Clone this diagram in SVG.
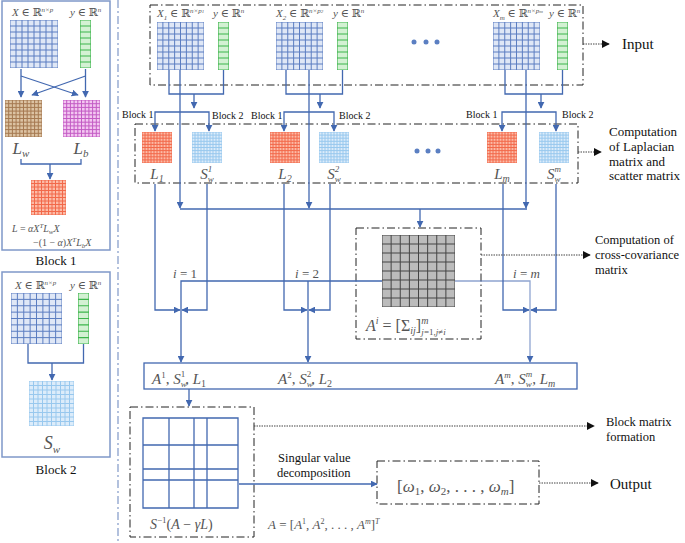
<svg xmlns="http://www.w3.org/2000/svg" xmlns:xlink="http://www.w3.org/1999/xlink" width="685" height="543" viewBox="0 0 685 543">
<style>
.bl{fill:none;stroke:#4268b0;stroke-width:1.3}
.bx{fill:none;stroke:#7f98c9;stroke-width:1.5}
.dd{fill:none;stroke:#222;stroke-width:1;stroke-dasharray:8 3 1.5 3}
.dot{fill:none;stroke:#444;stroke-width:1;stroke-dasharray:1.5 1}
.m{font-family:"Liberation Serif","DejaVu Serif",serif;font-style:italic;fill:#555}
.r{font-family:"Liberation Serif","DejaVu Serif",serif;font-style:normal}
.t{font-family:"Liberation Serif","DejaVu Serif",serif;fill:#111}
.gb{fill:#dfe7f6;stroke:#5b7dc1}
.gv{fill:#d3f1d3;stroke:#3db54c}
.gn{fill:#dcc3a3;stroke:#a57850}
.gm{fill:#f3c7f1;stroke:#c35ac4}
.gr{fill:#fcbba7;stroke:#f2694a}
.gs{fill:#dcecfa;stroke:#98c8ee}
.gg{fill:#bcbcbc;stroke:#444}
</style>
<defs>
<marker id="ab" viewBox="0 0 10 10" refX="9" refY="5" markerWidth="7" markerHeight="7" markerUnits="userSpaceOnUse" orient="auto"><path d="M0,0L10,5L0,10z" fill="#4268b0"/></marker>
<marker id="ak" viewBox="0 0 10 10" refX="9" refY="5" markerWidth="8" markerHeight="8" markerUnits="userSpaceOnUse" orient="auto"><path d="M0,0L10,5L0,10z" fill="#111"/></marker>
<symbol id="g8" viewBox="0 0 8 8" preserveAspectRatio="none"><rect width="8" height="8" stroke="none"/><path fill="none" vector-effect="non-scaling-stroke" stroke-width="1" d="M0,0H8V8H0zM1,0V8M2,0V8M3,0V8M4,0V8M5,0V8M6,0V8M7,0V8M0,1H8M0,2H8M0,3H8M0,4H8M0,5H8M0,6H8M0,7H8"/></symbol>
<symbol id="g10" viewBox="0 0 10 10" preserveAspectRatio="none"><rect width="10" height="10" stroke="none"/><path fill="none" vector-effect="non-scaling-stroke" stroke-width="1" d="M0,0H10V10H0zM1,0V10M2,0V10M3,0V10M4,0V10M5,0V10M6,0V10M7,0V10M8,0V10M9,0V10M0,1H10M0,2H10M0,3H10M0,4H10M0,5H10M0,6H10M0,7H10M0,8H10M0,9H10"/></symbol>
<symbol id="v8" viewBox="0 0 1 8" preserveAspectRatio="none"><rect width="1" height="8" stroke="none"/><path fill="none" vector-effect="non-scaling-stroke" stroke-width="1.2" d="M0,0H1V8H0zM0,1H1M0,2H1M0,3H1M0,4H1M0,5H1M0,6H1M0,7H1"/></symbol>
</defs>
<rect width="685" height="543" fill="#fff"/>

<line x1="118" y1="0" x2="118" y2="543" stroke="#8aa0cc" stroke-width="1.3" stroke-dasharray="8 3 2 3"/>

<g id="block1">
<rect class="bx" x="2" y="1" width="108" height="249"/>
<text class="m" x="12" y="16" font-size="11">X <tspan class="r">∈ ℝ</tspan><tspan font-size="7" dy="-4">n×p</tspan></text>
<text class="m" x="70" y="16" font-size="11">y <tspan class="r">∈ ℝ</tspan><tspan font-size="7" dy="-4">n</tspan></text>
<use href="#g8" class="gb" x="10" y="20" width="48" height="48"/>
<use href="#v8" class="gv" x="80" y="20" width="11" height="48"/>
<use href="#g10" class="gn" x="5" y="100" width="37" height="37"/>
<use href="#g10" class="gm" x="63" y="100" width="37" height="37"/>
<text class="m" x="21" y="154" font-size="17" text-anchor="middle">L<tspan font-size="11" dy="3">w</tspan></text>
<text class="m" x="81" y="154" font-size="17" text-anchor="middle">L<tspan font-size="11" dy="3">b</tspan></text>
<use href="#g10" class="gr" x="31" y="180" width="35" height="35"/>
<text class="m" x="12" y="232" font-size="10">L <tspan class="r">= </tspan>αX<tspan font-size="7" dy="-4">T</tspan><tspan dy="4">L</tspan><tspan font-size="7" dy="2">w</tspan><tspan dy="-2">X</tspan></text>
<text class="m" x="33" y="246" font-size="10"><tspan class="r">−(1 − </tspan>α<tspan class="r">)</tspan>X<tspan font-size="7" dy="-4">T</tspan><tspan dy="4">L</tspan><tspan font-size="7" dy="2">b</tspan><tspan dy="-2">X</tspan></text>
<text class="t" x="56" y="265" font-size="13" text-anchor="middle">Block 1</text>
</g>

<g id="block2">
<rect class="bx" x="2" y="272" width="108" height="185"/>
<text class="m" x="15" y="289" font-size="11">X <tspan class="r">∈ ℝ</tspan><tspan font-size="7" dy="-4">n×p</tspan></text>
<text class="m" x="70" y="289" font-size="11">y <tspan class="r">∈ ℝ</tspan><tspan font-size="7" dy="-4">n</tspan></text>
<use href="#g8" class="gb" x="11" y="293" width="51" height="51"/>
<use href="#v8" class="gv" x="78" y="293" width="11" height="51"/>
<use href="#g10" class="gs" x="29" y="381" width="45" height="45"/>
<text class="m" x="52" y="449" font-size="18" text-anchor="middle">S<tspan font-size="11" dy="4">w</tspan></text>
<text class="t" x="56" y="474" font-size="13" text-anchor="middle">Block 2</text>
</g>

<g id="input">
<rect class="dd" x="150" y="5" width="433" height="80"/>
<text class="m" x="157" y="17" font-size="11">X<tspan font-size="7" dy="3">1</tspan><tspan class="r" dy="-3"> ∈ ℝ</tspan><tspan font-size="7" dy="-4">n×p<tspan font-size="5">1</tspan></tspan></text>
<text class="m" x="213" y="17" font-size="11">y <tspan class="r">∈ ℝ</tspan><tspan font-size="7" dy="-4">n</tspan></text>
<use href="#g8" class="gb" x="157" y="22" width="47" height="48"/>
<use href="#v8" class="gv" x="218" y="22" width="11" height="48"/>
<text class="m" x="276" y="17" font-size="11">X<tspan font-size="7" dy="3">2</tspan><tspan class="r" dy="-3"> ∈ ℝ</tspan><tspan font-size="7" dy="-4">n×p<tspan font-size="5">2</tspan></tspan></text>
<text class="m" x="333" y="17" font-size="11">y <tspan class="r">∈ ℝ</tspan><tspan font-size="7" dy="-4">n</tspan></text>
<use href="#g8" class="gb" x="276" y="22" width="47" height="48"/>
<use href="#v8" class="gv" x="337" y="22" width="11" height="48"/>
<circle cx="414" cy="42" r="2.5" fill="#5b7fc2"/><circle cx="426" cy="42" r="2.5" fill="#5b7fc2"/><circle cx="437" cy="42" r="2.5" fill="#5b7fc2"/>
<text class="m" x="493" y="17" font-size="11">X<tspan font-size="7" dy="3">m</tspan><tspan class="r" dy="-3"> ∈ ℝ</tspan><tspan font-size="7" dy="-4">n×p<tspan font-size="5">m</tspan></tspan></text>
<text class="m" x="549" y="17" font-size="11">y <tspan class="r">∈ ℝ</tspan><tspan font-size="7" dy="-4">n</tspan></text>
<use href="#g8" class="gb" x="493" y="22" width="47" height="48"/>
<use href="#v8" class="gv" x="557" y="22" width="11" height="48"/>
<text class="t" x="622" y="49" font-size="15">Input</text>
</g>

<g id="laplacian">
<rect class="dd" x="135" y="124" width="443" height="59"/>
<use href="#g10" class="gr" x="142" y="132" width="30" height="31"/>
<use href="#g10" class="gs" x="192" y="132" width="30" height="31"/>
<use href="#g10" class="gr" x="270" y="132" width="30" height="31"/>
<use href="#g10" class="gs" x="319" y="132" width="30" height="31"/>
<use href="#g10" class="gr" x="487" y="132" width="30" height="31"/>
<use href="#g10" class="gs" x="539" y="132" width="30" height="31"/>
<circle cx="417" cy="151" r="2.5" fill="#5b7fc2"/><circle cx="428" cy="151" r="2.5" fill="#5b7fc2"/><circle cx="438" cy="151" r="2.5" fill="#5b7fc2"/>
<text class="m" x="157" y="179" font-size="15" text-anchor="middle">L<tspan font-size="10" dy="3">1</tspan></text>
<text class="m" x="207" y="179" font-size="15" text-anchor="middle">S<tspan font-size="9" dy="3">w</tspan><tspan font-size="9" dx="-6" dy="-10">1</tspan></text>
<text class="m" x="285" y="179" font-size="15" text-anchor="middle">L<tspan font-size="10" dy="3">2</tspan></text>
<text class="m" x="334" y="179" font-size="15" text-anchor="middle">S<tspan font-size="9" dy="3">w</tspan><tspan font-size="9" dx="-6" dy="-10">2</tspan></text>
<text class="m" x="502" y="179" font-size="15" text-anchor="middle">L<tspan font-size="10" dy="3">m</tspan></text>
<text class="m" x="554" y="179" font-size="15" text-anchor="middle">S<tspan font-size="9" dy="3">w</tspan><tspan font-size="9" dx="-6" dy="-10">m</tspan></text>
<text class="t" font-size="10"><tspan x="122" y="118">Block 1</tspan><tspan x="212" y="119">Block 2</tspan><tspan x="251" y="119">Block 1</tspan><tspan x="339" y="119">Block 2</tspan><tspan x="466" y="118">Block 1</tspan><tspan x="562" y="118">Block 2</tspan></text>
<text class="t" font-size="13"><tspan x="609" y="136">Computation</tspan><tspan x="609" y="151">of Laplacian</tspan><tspan x="609" y="166">matrix and</tspan><tspan x="609" y="180">scatter matrix</tspan></text>
</g>

<g id="crosscov">
<rect class="dd" x="356" y="228" width="125" height="111"/>
<use href="#g8" class="gg" x="382" y="235" width="73" height="72"/>
<text class="m" x="366" y="331" font-size="16">A<tspan font-size="10" dy="-7">i</tspan><tspan class="r" dy="7"> = [Σ</tspan><tspan font-size="10" dy="3">ij</tspan><tspan class="r" dy="-3">]</tspan><tspan font-size="10" dy="-7">m</tspan><tspan font-size="9" dx="-7" dy="11">j<tspan class="r">=1,</tspan>j<tspan class="r">≠</tspan>i</tspan></text>
<text class="t" font-size="12.5"><tspan x="595" y="244">Computation of</tspan><tspan x="595" y="259">cross-covariance</tspan><tspan x="595" y="274">matrix</tspan></text>
<text class="m" x="173" y="278" font-size="13">i <tspan class="r">= 1</tspan></text>
<text class="m" x="295" y="278" font-size="13">i <tspan class="r">= 2</tspan></text>
<text class="m" x="513" y="278" font-size="13">i <tspan class="r">= </tspan>m</text>
</g>

<g id="blockrow">
<rect class="bl" x="144" y="363" width="433" height="26"/>
<text class="m" x="152" y="384" font-size="15">A<tspan font-size="9" dy="-6" class="r">1</tspan><tspan class="r" dy="6">, </tspan>S<tspan font-size="9" dy="3">w</tspan><tspan font-size="9" dx="-6" dy="-10" class="r">1</tspan><tspan class="r" dy="7">, </tspan>L<tspan font-size="10" dy="3" class="r">1</tspan></text>
<text class="m" x="278" y="384" font-size="15">A<tspan font-size="9" dy="-6" class="r">2</tspan><tspan class="r" dy="6">, </tspan>S<tspan font-size="9" dy="3">w</tspan><tspan font-size="9" dx="-6" dy="-10" class="r">2</tspan><tspan class="r" dy="7">, </tspan>L<tspan font-size="10" dy="3" class="r">2</tspan></text>
<text class="m" x="495" y="384" font-size="15">A<tspan font-size="9" dy="-6">m</tspan><tspan class="r" dy="6">, </tspan>S<tspan font-size="9" dy="3">w</tspan><tspan font-size="9" dx="-6" dy="-10">m</tspan><tspan class="r" dy="7">, </tspan>L<tspan font-size="10" dy="3">m</tspan></text>
</g>

<g id="blockmatrix">
<rect class="dd" x="130" y="407" width="124" height="130"/>
<path class="bl" d="M143,418H238V508H143zM169,418V508M194,418V508M207,418V508M143,445H238M143,469H238M143,480H238"/>
<text class="m" x="150" y="529" font-size="14">S<tspan font-size="9" dy="-6" class="r">−1</tspan><tspan class="r" dy="6">(</tspan>A<tspan class="r"> − </tspan>γL<tspan class="r">)</tspan></text>
<text class="m" x="268" y="529" font-size="13">A<tspan class="r"> = [</tspan>A<tspan font-size="8" dy="-5" class="r">1</tspan><tspan class="r" dy="5">, </tspan>A<tspan font-size="8" dy="-5" class="r">2</tspan><tspan class="r" dy="5">, . . . , </tspan>A<tspan font-size="8" dy="-5">m</tspan><tspan class="r" dy="5">]</tspan><tspan font-size="8" dy="-5">T</tspan></text>
<text class="t" font-size="12.5"><tspan x="606" y="426">Block matrix</tspan><tspan x="606" y="441">formation</tspan></text>
<text class="t" font-size="12.5"><tspan x="278" y="462">Singular value</tspan><tspan x="277" y="477">decomposition</tspan></text>
</g>

<g id="output">
<rect class="dd" x="377" y="461" width="162" height="43"/>
<text class="m" x="397" y="492" font-size="17"><tspan class="r">[</tspan>ω<tspan font-size="11" dy="3" class="r">1</tspan><tspan class="r" dy="-3">, </tspan>ω<tspan font-size="11" dy="3" class="r">2</tspan><tspan class="r" dy="-3">, . . . , </tspan>ω<tspan font-size="11" dy="3">m</tspan><tspan class="r" dy="-3">]</tspan></text>
<text class="t" x="610" y="489" font-size="15">Output</text>
</g>

<g id="connectors">
<path class="bl" d="M21,69V97" marker-end="url(#ab)"/>
<path class="bl" d="M21,76L78,95" marker-end="url(#ab)"/>
<path class="bl" d="M85.5,69V97" marker-end="url(#ab)"/>
<path class="bl" d="M85.5,76L32,95" marker-end="url(#ab)"/>
<path class="bl" d="M21,159V164H81V159"/>
<path class="bl" d="M50,164V179" marker-end="url(#ab)"/>
<path class="bl" d="M28,344V363H83.5V344"/>
<path class="bl" d="M52,363V380" marker-end="url(#ab)"/>

<path class="bl" d="M169,70V94H223.5V70"/>
<path class="bl" d="M194,94V108" marker-end="url(#ab)"/>
<path class="bl" d="M286,70V94H342.5V70"/>
<path class="bl" d="M320,94V108" marker-end="url(#ab)"/>
<path class="bl" d="M505,70V94H562.5V70"/>
<path class="bl" d="M541,94V108" marker-end="url(#ab)"/>

<path class="bl" d="M180,70V208" marker-end="url(#ab)"/>
<path class="bl" d="M309,70V208" marker-end="url(#ab)"/>
<path class="bl" d="M526,70V208" marker-end="url(#ab)"/>

<path class="bl" d="M182,112H155V131" marker-end="url(#ab)"/>
<path class="bl" d="M182,112H209V131" marker-end="url(#ab)"/>
<path class="bl" d="M309,112H284V131" marker-end="url(#ab)"/>
<path class="bl" d="M309,112H334V131" marker-end="url(#ab)"/>
<path class="bl" d="M526,112H502V131" marker-end="url(#ab)"/>
<path class="bl" d="M526,112H556V131" marker-end="url(#ab)"/>

<path class="bl" d="M180,209H527"/>
<path class="bl" d="M420,209V227" marker-end="url(#ab)"/>

<path class="bl" d="M155,184V310H180" marker-end="url(#ab)"/>
<path class="bl" d="M207,184V310H182" marker-end="url(#ab)"/>
<path class="bl" d="M382,281H181V362" marker-end="url(#ab)"/>
<path class="bl" d="M284,184V310H307" marker-end="url(#ab)"/>
<path class="bl" d="M330,184V310H309" marker-end="url(#ab)"/>
<path class="bl" d="M308,281V362" marker-end="url(#ab)"/>
<path class="bl" d="M503,184V310H529" marker-end="url(#ab)"/>
<path class="bl" d="M556,184V310H531" marker-end="url(#ab)"/>
<path class="bl" d="M455,281H530V362" marker-end="url(#ab)" stroke-opacity="0.6"/>

<path class="bl" d="M189,389V406" marker-end="url(#ab)"/>
<path class="bl" d="M239,484H377" marker-end="url(#ab)"/>

<path class="dot" d="M583,44H609" marker-end="url(#ak)"/>
<path class="dot" d="M578,152H601" marker-end="url(#ak)"/>
<path class="dot" d="M481,255H590" marker-end="url(#ak)"/>
<path class="dot" d="M254,426H594" marker-end="url(#ak)"/>
<path class="dot" d="M539,483H598" marker-end="url(#ak)"/>
</g>
</svg>
